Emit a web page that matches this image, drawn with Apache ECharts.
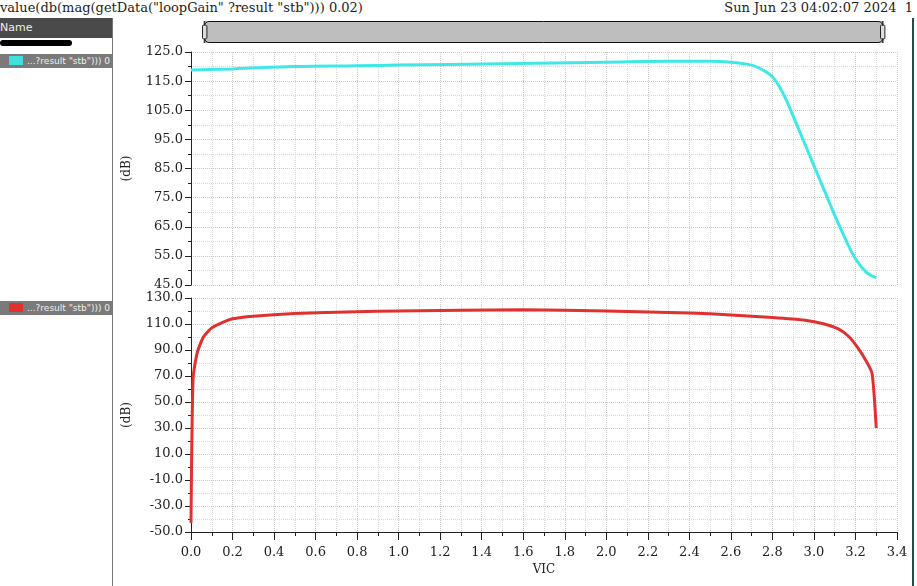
<!DOCTYPE html>
<html><head><meta charset="utf-8">
<script src="https://cdn.jsdelivr.net/npm/echarts@6/dist/echarts.min.js"></script>
<style>
body{margin:0;background:#fff;font-family:"DejaVu Serif",serif;}
#top{position:absolute;left:0;top:0;width:917px;height:18px;font-size:13px;color:#222;}
#side{position:absolute;left:0;top:18px;width:112px;height:568px;border-right:1px solid #777;}
.hdr{background:#4a4a4a;color:#eee;font-family:"DejaVu Sans";font-size:11px;height:20px;line-height:20px;padding-left:0;}
.pill{position:absolute;left:0;top:22px;width:72px;height:6px;background:#000;border-radius:3px;}
.row{position:absolute;left:0;width:112px;height:14px;background:#7a7a7a;color:#eee;font-family:"DejaVu Sans";font-size:9px;line-height:14px;white-space:nowrap;overflow:hidden;}
.sw{display:inline-block;width:14px;height:9px;margin:0 4px 0 9px;vertical-align:-1px;}
#chart{position:absolute;left:113px;top:0;width:804px;height:586px;}
#rb{position:absolute;left:912px;top:18px;width:2px;height:568px;background:#1e4d50;}
</style></head><body>
<div id="top"><span style="position:absolute;left:0">value(db(mag(getData("loopGain" ?result "stb"))) 0.02)</span><span style="position:absolute;right:4px">Sun Jun 23 04:02:07 2024 &nbsp;1</span></div>
<div id="side"><div class="hdr">Name</div><div class="pill"></div>
<div class="row" style="top:36px"><span class="sw" style="background:#3ee0e0"></span>...?result "stb"))) 0</div>
<div class="row" style="top:283px"><span class="sw" style="background:#e03030"></span>...?result "stb"))) 0</div></div>
<div id="chart"></div><div id="rb"></div>
<script>
var vicTop = [0, 0.2, 0.5, 0.8, 1.0, 1.5, 2.0, 2.3, 2.5, 2.6, 2.7, 2.75, 2.8, 2.85, 2.9, 2.95, 3.0, 3.05, 3.1, 3.15, 3.2, 3.25, 3.3];
var gainTop = [118.8, 119.2, 120, 120.3, 120.5, 121, 121.5, 121.8, 121.8, 121.5, 120.5, 119, 116.5, 111, 103, 94.5, 86, 77.5, 69, 61, 54, 49.5, 47.5];
var vicBot = [0, 0.01, 0.03, 0.06, 0.1, 0.15, 0.2, 0.3, 0.5, 0.8, 1.0, 1.6, 2.0, 2.4, 2.6, 2.8, 2.95, 3.05, 3.12, 3.17, 3.21, 3.25, 3.28, 3.3];
var gainBot = [-43, 68, 88, 100, 107, 111, 114, 116, 118, 119.5, 120, 121, 120, 118.5, 117, 115, 113, 110, 106, 100, 92, 82, 72, 30];
var font = 'DejaVu Serif';
var c = echarts.init(document.getElementById('chart'));
function pts(x, y){ return x.map(function(v,i){return [v,y[i]];}); }
function yAx(idx,min,max,iv){
  return {gridIndex:idx,type:'value',min:min,max:max,interval:iv,name:'(dB)',nameLocation:'middle',nameGap:58,nameRotate:90,
    nameTextStyle:{fontFamily:font,fontSize:12,color:'#222'},
    axisLine:{show:true,lineStyle:{color:'#222'}},axisTick:{show:true,length:6,lineStyle:{color:'#222'}},
    minorTick:{show:true,splitNumber:2,length:3,lineStyle:{color:'#222'}},
    axisLabel:{fontFamily:font,fontSize:13,color:'#222',formatter:function(v){return v.toFixed(1);}},
    splitLine:{lineStyle:{color:'#c8c8c8',type:'dotted'}},minorSplitLine:{show:true,lineStyle:{color:'#d8d8d8',type:'dotted'}}};
}
function xAx(idx,lab){
  return {gridIndex:idx,type:'value',min:0,max:3.4,interval:0.2,name:lab?'VIC':'',nameLocation:'middle',nameGap:32,
    nameTextStyle:{fontFamily:font,fontSize:12,color:'#222'},
    axisLine:{show:lab,onZero:false,lineStyle:{color:'#222'}},axisTick:{show:lab,length:8,lineStyle:{color:'#222'}},
    minorTick:{show:true,splitNumber:2,length:4,lineStyle:{color:lab?'#222':'rgba(0,0,0,0)'}},
    axisLabel:{show:lab,fontFamily:font,fontSize:13,color:'#222',margin:14,formatter:function(v){return v.toFixed(1);}},
    splitLine:{lineStyle:{color:'#c8c8c8',type:'dotted'}},minorSplitLine:{show:true,lineStyle:{color:'#d8d8d8',type:'dotted'}}};
}
c.setOption({
  animation:false,
  grid:[{left:73,right:20,top:52,height:233},{left:73,right:20,top:298,height:234}],
  xAxis:[xAx(0,false),xAx(1,true)],
  yAxis:[yAx(0,45,125,10),yAx(1,-50,130,20)],
  dataZoom:[{type:'slider',xAxisIndex:[0,1],top:21,height:22,left:90,right:34,filterMode:'none',
    backgroundColor:'#555',fillerColor:'rgba(190,190,190,1)',borderColor:'#111',borderRadius:5,
    showDetail:false,showDataShadow:false,brushSelect:false,
    handleStyle:{color:'#ddd',borderColor:'#222'},handleSize:'100%',moveHandleSize:0}],
  series:[
    {type:'line',xAxisIndex:0,yAxisIndex:0,data:pts(vicTop,gainTop),smooth:0.4,showSymbol:false,lineStyle:{color:'#3ee8e8',width:3}},
    {type:'line',xAxisIndex:1,yAxisIndex:1,data:pts(vicBot,gainBot),smooth:0.2,showSymbol:false,lineStyle:{color:'#e03030',width:3}}
  ]
});
</script></body></html>
